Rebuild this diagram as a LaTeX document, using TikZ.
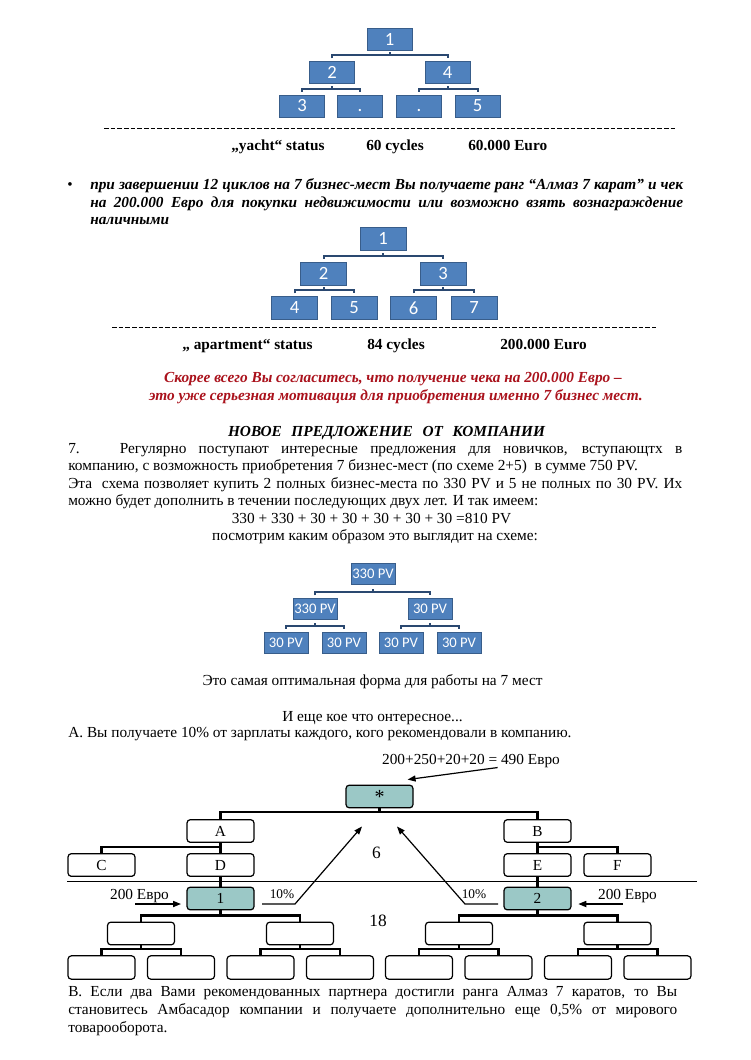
\documentclass[tikz,border=0pt]{standalone}
\usepackage{fontspec}
\setmainfont{Liberation Serif}
\newfontfamily\boxfont{Carlito}
\usetikzlibrary{arrows.meta}

\definecolor{boxblue}{RGB}{79,129,189}
\definecolor{boxedge}{RGB}{56,93,138}
\definecolor{barblue}{RGB}{42,72,112}
\definecolor{tealfill}{RGB}{155,200,198}
\definecolor{darkred}{RGB}{170,18,28}

\newcommand\txt{\fontsize{11.5pt}{13pt}\selectfont}

\begin{document}
\begin{tikzpicture}[
  x=0.75pt,
  y=-0.75pt,
  every node/.style={font=\txt},
  lft/.style={inner sep=0pt, anchor=base west},
  ctr/.style={inner sep=0pt, anchor=base},
  tile/.style={
    draw=boxedge,
    fill=boxblue,
    text=white,
    inner sep=0pt,
    line width=0.6pt,
    font=\boxfont\fontsize{14pt}{14pt}\selectfont,
    minimum width=33.75pt,
    minimum height=16.5pt
  },
  bigtile/.style={tile, minimum width=34.5pt, minimum height=17.25pt},
  pv/.style={tile, font=\boxfont\fontsize{11pt}{11pt}\selectfont, minimum width=33pt, minimum height=15.75pt},
  bra/.style={draw=barblue, line width=1.5pt},
  cell/.style={
    draw,
    line width=0.9pt,
    rounded corners=2.5pt,
    fill=white,
    inner sep=0pt,
    minimum width=50.25pt,
    minimum height=17pt
  },
  hot/.style={cell, fill=tealfill},
  low/.style={cell, minimum height=17.5pt},
  conn/.style={line width=1.8pt},
  arr/.style={-{Triangle[length=6pt,width=4.5pt]}, line width=0.9pt},
  hyph/.style={dash pattern=on 3.5pt off 1.5pt, line width=0.6pt}
]
\useasboundingbox (0,0) rectangle (750,1060);
\fill[white] (0,0) rectangle (750,1060);

\node[tile] (yT) at (389.5,39.5) {1};
\node[tile] (yL) at (332,72.5) {2};
\node[tile] (yR) at (447.5,72.5) {4};
\node[tile] (yLL) at (302,106) {3};
\node[tile] (yLR) at (360,106) {\vphantom{3}.};
\node[tile] (yRL) at (419,106) {\vphantom{3}.};
\node[tile] (yRR) at (477.5,106) {5};
\draw[hyph] (104,128) -- (676,128);
\node[lft, font={\txt\bfseries}] (ys1) at (231,150) {„yacht“ status};
\node[lft, font={\txt\bfseries}] (ys2) at (366,150) {60 cycles};
\node[lft, font={\txt\bfseries}] (ys3) at (468,150) {60.000 Euro};

\node[ctr] (bul) at (70,189) {\textbullet};
\node[lft, font={\txt\bfseries\itshape}] (b1) at (90,189) {\makebox[444.75pt][s]{при завершении 12 циклов на 7 бизнес-мест Вы получаете ранг “Алмаз 7 карат” и чек}};
\node[lft, font={\txt\bfseries\itshape}] (b2) at (90,207) {\makebox[444.75pt][s]{на 200.000 Евро для покупки недвижимости или возможно взять вознаграждение}};
\node[lft, font={\txt\bfseries\itshape}] (b3) at (90,224) {наличными};

\node[bigtile] (aT) at (383,238.5) {1};
\node[bigtile] (aL) at (323.5,273.5) {2};
\node[bigtile] (aR) at (443,273.5) {3};
\node[bigtile] (aLL) at (294.5,308) {4};
\node[bigtile] (aLR) at (354,308) {5};
\node[bigtile] (aRL) at (413.5,308) {6};
\node[bigtile] (aRR) at (474,308) {7};
\draw[hyph] (112,327.5) -- (656,327.5);
\node[lft, font={\txt\bfseries}] (as1) at (182,349) {„ apartment“ status};
\node[lft, font={\txt\bfseries}] (as2) at (367,349) {84 cycles};
\node[lft, font={\txt\bfseries}] (as3) at (500,349) {200.000 Euro};

\node[ctr, font={\txt\bfseries\itshape}, text=darkred] (red1) at (393,382) {Скорее всего Вы согласитесь, что получение чека на 200.000 Евро –};
\node[ctr, font={\txt\bfseries\itshape}, text=darkred] (red2) at (396,400) {это уже серьезная мотивация для приобретения именно 7 бизнес мест.};

\node[ctr, font={\txt\bfseries\itshape}] (head) at (386.5,436) {\makebox[237.75pt][s]{НОВОЕ ПРЕДЛОЖЕНИЕ ОТ КОМПАНИИ}};
\node[lft] (s1) at (68,453) {\makebox[460.5pt][s]{7.\hspace*{30pt}Регулярно поступают интересные предложения для новичков, вступающтх в}};
\node[lft] (s2) at (68,470.5) {компанию, с возможность приобретения 7 бизнес-мест (по схеме 2+5)\ \ в сумме 750 PV.};
\node[lft] (s3) at (68,488) {\makebox[460.5pt][s]{Эта\ \ схема позволяет купить 2 полных бизнес-места по 330 PV и 5 не полных по 30 PV. Их}};
\node[lft] (s4) at (68,505.5) {можно будет дополнить в течении последующих двух лет. И так имеем:};
\node[ctr] (s5) at (371.5,523) {330 + 330 + 30 + 30 + 30 + 30 + 30 =810 PV};
\node[ctr] (s6) at (375,540.5) {посмотрим каким образом это выглядит на схеме:};

\node[pv] (pT) at (373,574) {330 PV};
\node[pv] (pL) at (315,609) {330 PV};
\node[pv] (pR) at (430,609) {30 PV};
\node[pv] (pLL) at (286,642.5) {30 PV};
\node[pv] (pLR) at (344,642.5) {30 PV};
\node[pv] (pRL) at (401,642.5) {30 PV};
\node[pv] (pRR) at (459,642.5) {30 PV};

\foreach \p/\l/\r in {yT/yL/yR, yL/yLL/yLR, yR/yRL/yRR, aT/aL/aR, aL/aLL/aLR, aR/aRL/aRR, pT/pL/pR, pL/pLL/pLR, pR/pRL/pRR}{
  \draw[bra] ([yshift=2pt]\l.north) -- ++(0,-3) coordinate (m) -| ([yshift=2pt]\r.north);
  \draw[bra] (m -| \p.south) -- ++(0,-3);
}

\node[ctr] (e1) at (372.5,685) {Это самая оптимальная форма для работы на 7 мест};
\node[ctr] (e2) at (372.5,721) {И еще кое что онтересное...};
\node[lft] (e3) at (68,737) {А. Вы получаете 10\% от зарплаты каждого, кого рекомендовали в компанию.};
\node[ctr] (sum) at (471,764) {200+250+20+20 = 490 Евро};

\node[hot] (star) at (379.5,796.5) {\fontsize{15pt}{15pt}\selectfont\raisebox{-3.5pt}{*}};
\node[cell] (nA) at (220.5,831) {A};
\node[cell] (nB) at (537.5,831) {B};
\node[cell] (nC) at (101.5,865) {C};
\node[cell] (nD) at (220.5,865) {D};
\node[cell] (nE) at (537.5,865) {E};
\node[cell] (nF) at (617.5,865) {F};
\node[hot] (one) at (220.5,898.5) {1};
\node[hot] (two) at (537.5,898.5) {2};
\node[cell] (q1) at (141,933.5) {};
\node[cell] (q2) at (300,933.5) {};
\node[cell] (q3) at (459,933.5) {};
\node[cell] (q4) at (617.5,933.5) {};
\foreach \i/\x in {1/101.5, 2/181, 3/260.5, 4/340, 5/419, 6/498.5, 7/578, 8/657.5}
  \node[low] (r\i) at (\x,967.5) {};

\node[font=\fontsize{13pt}{13pt}\selectfont] (six) at (376.5,853) {6};
\node[font=\fontsize{13pt}{13pt}\selectfont] (eighteen) at (378,921) {18};

\draw[conn] (nA.north) -- ++(0,-7) coordinate (m) -| (nB.north);
\draw[conn] (star.south) -- (star.south |- m);
\draw[conn] (nC.north) -- ++(0,-6) -| (nA.south);
\draw[conn] (nF.north) -- ++(0,-6) -| (nB.south);
\draw[conn] (nA) -- (nD);
\draw[conn] (nB) -- (nE);
\draw[conn] (nD) -- (one);
\draw[conn] (nE) -- (two);
\foreach \p/\l/\r in {one/q1/q2, two/q3/q4, q1/r1/r2, q2/r3/r4, q3/r5/r6, q4/r7/r8}{
  \draw[conn] (\l.north) -- ++(0,-6) coordinate (m) -| (\r.north);
  \draw[conn] (\p.south) -- (\p.south |- m);
}

\draw[line width=0.7pt] (67,881) -- (697,881);
\draw[line width=1.4pt] (635,881.5) -- (668,881.5);

\draw[arr] ([xshift=20pt]sum.south) -- ([xshift=-4.5pt,yshift=3.75pt]star.north east);

\node[font=\fontsize{10pt}{10pt}\selectfont] (pcL) at (282,894) {10\%};
\node[font=\fontsize{10pt}{10pt}\selectfont] (pcR) at (474,894) {10\%};
\coordinate (tipL) at (362,826.5);
\coordinate (tipR) at (397,826.5);
\coordinate (lL) at (262,904);
\coordinate (lR) at (498,904);
\draw[arr] (lL) -- ++(33,0) -- (tipL);
\draw[arr] (lR) -- ++(-33,0) -- (tipR);

\node (eL) at (139.5,896.5) {200 Евро};
\node (eR) at (627.5,896.5) {200 Евро};
\coordinate (eLa) at (135,904);
\coordinate (eRa) at (623,904);
\draw[arr, line width=1.2pt, shorten >=4pt] (eLa) -- (eLa -| one.west);
\draw[arr, line width=1.2pt, shorten >=5pt] (eRa) -- (eRa -| two.east);

\node[lft] (v1) at (68,996) {\makebox[456.75pt][s]{В. Если два Вами рекомендованных партнера достигли ранга Алмаз 7 каратов, то Вы}};
\node[lft] (v2) at (68,1014) {\makebox[456.75pt][s]{становитесь Амбасадор компании и получаете дополнительно еще 0,5\% от мирового}};
\node[lft] (v3) at (68,1032) {товарооборота.};
\end{tikzpicture}
\end{document}
